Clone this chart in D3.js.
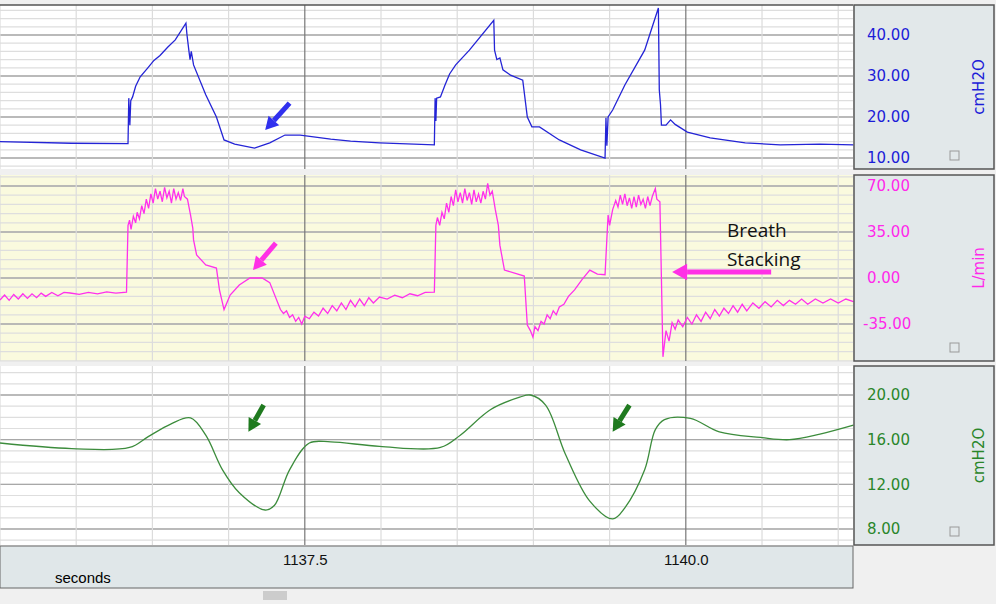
<!DOCTYPE html>
<html><head><meta charset="utf-8">
<script src="https://cdn.jsdelivr.net/npm/d3@7"></script>
<style>body{margin:0;background:#fff}svg{display:block}</style>
</head><body><svg id="c" width="996" height="604"></svg>
<script>
const timeTicks=[1137.5,1140.0];
const pressureTicks=[10,20,30,40];
const flowTicks=[-35,0,35,70];
const pesTicks=[8,12,16,20];
const pressure=[[1135.50,14.0],[1135.97,13.6],[1136.34,13.5],[1136.345,24.6],[1136.352,18],[1136.358,24.0],[1136.37,24.9],[1136.39,27.5],[1136.42,29.8],[1136.47,32],[1136.51,33.8],[1136.55,35],[1136.60,37],[1136.65,38.8],[1136.72,42.9],[1136.727,40],[1136.74,36],[1136.747,34],[1136.755,36],[1136.77,32.7],[1136.85,25.4],[1136.92,20],[1136.97,14.4],[1137.04,13.4],[1137.17,12.4],[1137.27,13.7],[1137.37,15.6],[1137.47,15.6],[1137.67,14.6],[1137.80,14.1],[1137.99,13.7],[1138.35,13.2],[1138.355,24.6],[1138.36,19],[1138.365,24.6],[1138.39,24.9],[1138.42,27.8],[1138.45,30.5],[1138.49,32.7],[1138.58,36.3],[1138.74,43.6],[1138.745,36.3],[1138.76,34],[1138.78,34.4],[1138.80,31.5],[1138.85,30.2],[1138.93,29],[1138.96,20],[1138.99,17.6],[1139.04,17.6],[1139.17,14.4],[1139.31,12],[1139.47,10],[1139.476,19.8],[1139.482,13],[1139.49,20],[1139.52,21.7],[1139.60,27.8],[1139.73,36.3],[1139.82,46.6],[1139.826,26.6],[1139.834,23],[1139.84,18],[1139.87,18],[1139.90,19.3],[1139.93,18.2],[1140.01,16.3],[1140.16,14.9],[1140.39,13.7],[1140.62,13.2],[1140.88,13.4],[1141.10,13.2]];
const flow=[[1135.50,-16.7],[1135.53,-13],[1135.56,-17],[1135.59,-12.5],[1135.62,-16],[1135.65,-12],[1135.68,-15.5],[1135.71,-12],[1135.74,-15],[1135.77,-11.5],[1135.80,-14],[1135.84,-11],[1135.88,-13.5],[1135.92,-11],[1135.96,-11.4],[1136.02,-12.5],[1136.08,-11],[1136.14,-12],[1136.20,-10.5],[1136.26,-11.5],[1136.33,-10.7],[1136.34,40],[1136.35,44],[1136.36,37],[1136.375,47],[1136.39,42],[1136.40,50],[1136.415,45],[1136.43,55],[1136.445,49],[1136.46,60],[1136.475,53],[1136.49,64],[1136.505,57],[1136.52,68],[1136.535,60],[1136.55,66],[1136.565,58],[1136.58,69],[1136.595,61],[1136.61,66],[1136.625,57],[1136.64,68],[1136.655,60],[1136.67,65],[1136.685,59],[1136.70,68],[1136.71,62],[1136.73,60],[1136.75,48],[1136.765,38],[1136.77,29],[1136.79,17.5],[1136.85,10],[1136.92,7.6],[1136.94,-9],[1136.97,-24],[1137.01,-13],[1137.07,-5.3],[1137.14,0],[1137.22,0],[1137.27,-3.5],[1137.34,-24],[1137.36,-27],[1137.38,-25],[1137.40,-30],[1137.42,-28],[1137.44,-33],[1137.46,-30],[1137.48,-35],[1137.50,-29],[1137.53,-31],[1137.56,-26],[1137.59,-29],[1137.62,-23],[1137.65,-27],[1137.68,-21],[1137.71,-25],[1137.74,-19],[1137.77,-24],[1137.80,-17],[1137.83,-22],[1137.86,-16],[1137.89,-21],[1137.92,-15],[1137.95,-19],[1137.99,-14.5],[1138.04,-16],[1138.09,-13],[1138.14,-15],[1138.19,-12],[1138.24,-13.5],[1138.29,-11],[1138.35,-10.7],[1138.36,40],[1138.37,46],[1138.385,40],[1138.40,50],[1138.415,45],[1138.43,57],[1138.445,50],[1138.46,62],[1138.475,55],[1138.49,67],[1138.505,58],[1138.52,65],[1138.535,57],[1138.55,68],[1138.565,59],[1138.58,65],[1138.595,56],[1138.61,67],[1138.625,58],[1138.64,64],[1138.655,57],[1138.67,66],[1138.685,60],[1138.70,72],[1138.715,63],[1138.73,66],[1138.75,52],[1138.77,40],[1138.78,25],[1138.81,6],[1138.94,1.5],[1138.96,-35.8],[1138.98,-40],[1138.997,-45],[1139.01,-37],[1139.03,-40],[1139.05,-33],[1139.07,-35],[1139.09,-28],[1139.11,-31],[1139.13,-25],[1139.15,-28],[1139.17,-22],[1139.20,-20],[1139.23,-14],[1139.27,-9],[1139.32,-1],[1139.37,6],[1139.42,3],[1139.47,2.5],[1139.49,48],[1139.50,40],[1139.52,52],[1139.54,59],[1139.555,54],[1139.57,63],[1139.585,56],[1139.60,64],[1139.615,55],[1139.63,61],[1139.645,53],[1139.66,62],[1139.675,54],[1139.69,63],[1139.705,56],[1139.72,60],[1139.735,53],[1139.75,62],[1139.765,55],[1139.78,62],[1139.80,68],[1139.81,60],[1139.83,58],[1139.85,-60],[1139.87,-40],[1139.89,-48],[1139.91,-34],[1139.93,-39],[1139.95,-32],[1139.98,-37],[1140.01,-30],[1140.04,-35],[1140.07,-28],[1140.10,-33],[1140.13,-26],[1140.16,-31],[1140.19,-24],[1140.22,-29],[1140.25,-23],[1140.28,-27],[1140.31,-21],[1140.34,-26],[1140.37,-20],[1140.40,-25],[1140.44,-19],[1140.48,-23],[1140.52,-18],[1140.56,-22],[1140.60,-17],[1140.64,-21],[1140.68,-17],[1140.72,-20],[1140.76,-16],[1140.80,-20],[1140.85,-16],[1140.90,-19],[1140.95,-16],[1141.00,-19],[1141.05,-16],[1141.10,-18]];
const pes=[[1135.50,15.7],[1135.97,15.2],[1136.35,15.3],[1136.47,16.25],[1136.62,17.4],[1136.75,17.95],[1136.85,16.4],[1136.96,13.3],[1137.07,11.25],[1137.24,9.7],[1137.30,10.1],[1137.40,13.3],[1137.53,15.7],[1137.67,15.8],[1137.99,15.4],[1138.39,15.3],[1138.52,16.4],[1138.72,18.7],[1138.91,19.8],[1138.98,20],[1139.08,19.1],[1139.21,14.7],[1139.37,10.5],[1139.52,8.9],[1139.60,9.9],[1139.73,13.3],[1139.80,16.9],[1139.86,17.8],[1140.03,17.9],[1140.22,16.7],[1140.49,16.2],[1140.68,16],[1140.88,16.5],[1141.10,17.3]];

const svg=d3.select("#c");
const W=853;
const x=d3.scaleLinear().domain([1135.5,1141.097]).range([0,W]);
const font="DejaVu Sans, Verdana, sans-serif";
svg.append("rect").attr("width",996).attr("height",604).attr("fill","#f0f0f0");

const panels=[
 {top:5,bot:169,dom:[10,40],rng:[158,35],ticks:pressureTicks,minor:2,data:pressure,col:"#2424d6",bg:"#fff",unit:"cmH2O",tc:"#1c1cd8"},
 {top:175,bot:361,dom:[-35,70],rng:[324,186],ticks:flowTicks,minor:7,data:flow,col:"#ff30ec",bg:"#fafade",unit:"L/min",tc:"#ff28ea"},
 {top:366,bot:545,dom:[8,20],rng:[529,395],ticks:pesTicks,minor:1,data:pes,col:"#3c8c3c",bg:"#fff",unit:"cmH2O",tc:"#2a862a"}
];
const grid=d3.range(1135.5,1141.1,0.5);
const fmt=d3.format(".2f");
panels.forEach((p,i)=>{
 const y=d3.scaleLinear().domain(p.dom).range(p.rng);
 p.y=y;
 const g=svg.append("g");
 g.append("rect").attr("x",0).attr("y",p.top).attr("width",W).attr("height",p.bot-p.top).attr("fill",p.bg);
 const lo=y.invert(p.bot), hi=y.invert(p.top);
 const minors=d3.range(Math.ceil(lo/p.minor)*p.minor,hi,p.minor);
 g.selectAll(".mn").data(minors).join("line").attr("x1",0).attr("x2",W).attr("y1",d=>y(d)).attr("y2",d=>y(d)).attr("stroke","#dedede").attr("stroke-width",1.2);
 g.selectAll(".mj").data(p.ticks).join("line").attr("x1",0).attr("x2",W).attr("y1",d=>y(d)).attr("y2",d=>y(d)).attr("stroke","#a8a8a8").attr("stroke-width",1.3);
 g.selectAll(".vg").data(grid).join("line").attr("x1",d=>x(d)).attr("x2",d=>x(d)).attr("y1",p.top).attr("y2",p.bot)
  .attr("stroke",d=>timeTicks.some(t=>Math.abs(t-d)<1e-6)?"#777":"#dcdcdc").attr("stroke-width",1.2);
 g.append("path").datum(p.data).attr("fill","none").attr("stroke",p.col).attr("stroke-width",1.3)
  .attr("d",d3.line().x(d=>x(d[0])).y(d=>y(d[1])).curve(i==2?d3.curveCatmullRom:d3.curveLinear));
 g.append("rect").attr("x",854).attr("y",p.top).attr("width",140).attr("height",p.bot-p.top).attr("fill","#e2e8ea").attr("stroke","#555").attr("stroke-width",1.5);
 const ax=g.append("g").attr("transform","translate(854,0)").call(d3.axisRight(y).tickValues(p.ticks).tickSize(0).tickPadding(0).tickFormat(d=>fmt(d).replace("−","-")));
 ax.select(".domain").remove();
 ax.selectAll("text").attr("x",d=>d<0?9:13).attr("fill",p.tc).style("font-family",font).style("font-size","15px");
 g.append("text").attr("transform",`translate(984,${(p.top+p.bot)/2}) rotate(-90)`).attr("text-anchor","middle")
  .attr("fill",p.tc).style("font-family",font).style("font-size","15px").text(p.unit);
 g.append("rect").attr("x",950).attr("y",p.bot-18).attr("width",9).attr("height",9).attr("fill","none").attr("stroke","#999");
});
svg.append("line").attr("x1",0).attr("x2",W).attr("y1",5).attr("y2",5).attr("stroke","#555").attr("stroke-width",1.5);
svg.append("rect").attr("x",0).attr("y",546).attr("width",W).attr("height",42).attr("fill","#e0e7e9").attr("stroke","#666");
const bx=svg.append("g").attr("transform","translate(0,546)").call(d3.axisBottom(x).tickValues(timeTicks).tickSize(0).tickPadding(8).tickFormat(d3.format(".1f")));
bx.select(".domain").remove();
bx.selectAll("text").attr("fill","#111").style("font-family","Liberation Sans Narrow, Liberation Sans, sans-serif").style("font-size","15px");
svg.append("text").attr("x",55).attr("y",583).style("font-family","Liberation Sans Narrow, Liberation Sans, sans-serif").style("font-size","15px").text("seconds");
svg.append("rect").attr("x",263).attr("y",591).attr("width",24).attr("height",9).attr("fill","#ccc");

function arrow(p,t0,v0,t1,v1,col,w,head){
 const x0=x(t0),y0=p.y(v0),x1=x(t1),y1=p.y(v1);
 const a=Math.atan2(y1-y0,x1-x0);
 const bx=x1-head*Math.cos(a), by=y1-head*Math.sin(a);
 svg.append("line").attr("x1",x0).attr("y1",y0).attr("x2",bx).attr("y2",by).attr("stroke",col).attr("stroke-width",w);
 const n=a+Math.PI/2, hw=head*0.55;
 svg.append("path").attr("d",`M${x1},${y1}L${bx+hw*Math.cos(n)},${by+hw*Math.sin(n)}L${bx-hw*Math.cos(n)},${by-hw*Math.sin(n)}Z`).attr("fill",col);
}
const [P1,P2,P3]=panels;
arrow(P1,1137.40,23.4,1137.24,16.8,"#3030ee",5,13);
arrow(P2,1137.31,26.6,1137.16,6,"#ff30e6",5,13);
arrow(P2,1140.56,4.6,1139.91,4.6,"#ff30e6",5,15);
arrow(P3,1137.23,19.1,1137.13,16.7,"#1f7a1f",5,13);
arrow(P3,1139.63,19.1,1139.52,16.7,"#1f7a1f",5,13);
svg.append("text").attr("x",x(1140.27)).attr("y",P2.y(31.5)).style("font-family","Open Sans, sans-serif").style("font-size","19px").attr("fill","#111").text("Breath");
svg.append("text").attr("x",x(1140.27)).attr("y",P2.y(9)).style("font-family","Open Sans, sans-serif").style("font-size","19px").attr("fill","#111").text("Stacking");
</script></body></html>
